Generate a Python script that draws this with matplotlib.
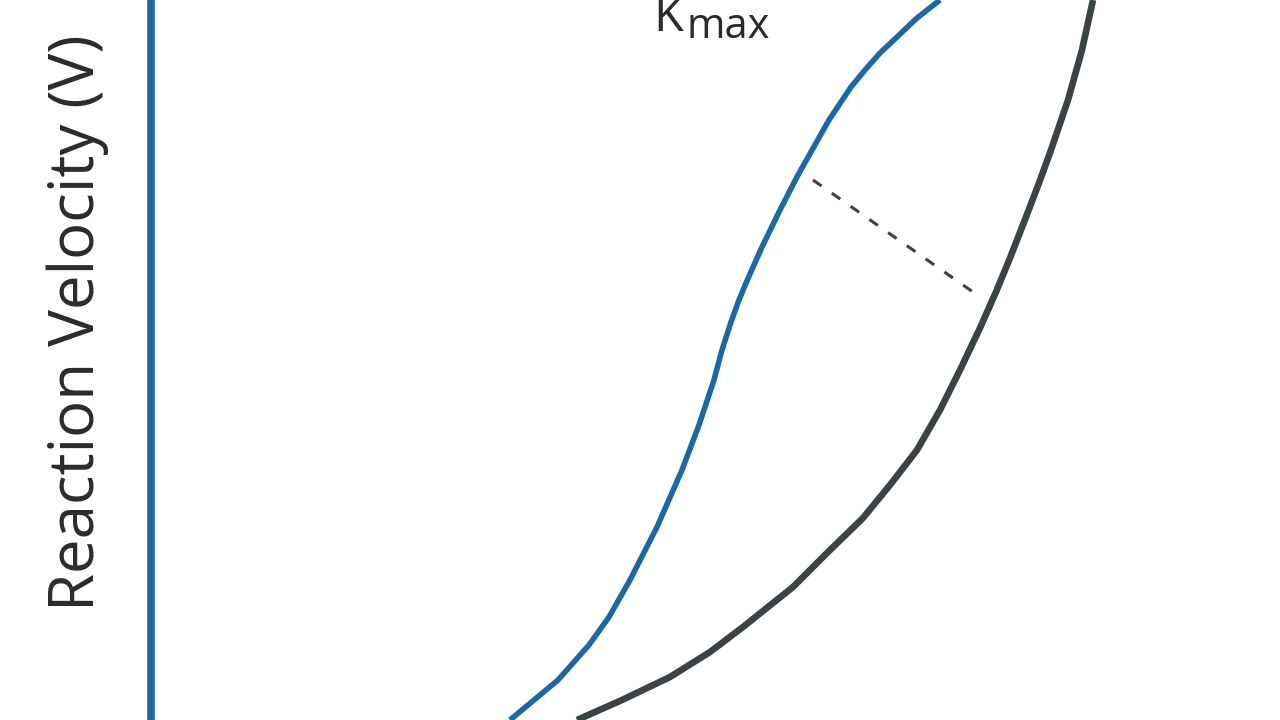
import matplotlib
matplotlib.use("Agg")
import matplotlib.pyplot as plt
import numpy as np

# Data (pixel positions, converted to data units below)
x0 = 151
blue_px = [510, 558, 589, 609, 630, 657, 682, 699, 714, 722, 731, 739, 746, 762, 780, 798, 816, 829, 839, 851, 865, 880, 897, 917, 940]
blue_py = [720, 680, 645, 617, 580, 527, 470, 425, 380, 350, 322, 300, 283, 247, 210, 175, 143, 120, 105, 87, 70, 53, 37, 18, 0]
gray_px = [577, 622, 670, 710, 743, 793, 827, 863, 890, 917, 940, 960, 980, 996, 1010, 1026, 1039, 1051, 1068, 1082, 1093]
gray_py = [720, 700, 677, 652, 627, 587, 553, 518, 485, 450, 410, 370, 328, 292, 258, 217, 183, 150, 100, 50, 0]
dash_px = [813, 973]
dash_py = [180, 292]

ylabel = "Reaction Velocity (V)"
k_main = "K"
k_sub = "max"

blue_x = np.array(blue_px) - x0
blue_y = 720 - np.array(blue_py)
gray_x = np.array(gray_px) - x0
gray_y = 720 - np.array(gray_py)
dash_x = np.array(dash_px) - x0
dash_y = 720 - np.array(dash_py)

plt.rcParams['font.family'] = ['Open Sans', 'DejaVu Sans']
plt.rcParams['lines.scale_dashes'] = False

fig = plt.figure(figsize=(12.8, 7.2), dpi=100)
ax = fig.add_axes([x0 / 1280, 0, 1 - x0 / 1280, 1])
ax.set_xlim(0, 1280 - x0)
ax.set_ylim(0, 720)

BLUE = "#1c67a6"
GRAY = "#3b4347"
TXT = "#2b2b2b"

ax.plot(blue_x, blue_y, color=BLUE, lw=4.0, solid_capstyle='butt', solid_joinstyle='round')
ax.plot(gray_x, gray_y, color=GRAY, lw=4.8, solid_capstyle='butt', solid_joinstyle='round')
ax.plot(dash_x, dash_y, color=GRAY, lw=2.2, dashes=(7.5, 9))

for s in ['top', 'right', 'bottom']:
    ax.spines[s].set_visible(False)
ax.spines['left'].set_color(BLUE)
ax.spines['left'].set_linewidth(5.5)
ax.set_xticks([])
ax.set_yticks([])

fig.text(78 / 1280, 1 - 323 / 720, ylabel, rotation=90, ha='center', va='center',
         fontsize=44.5, color=TXT)
fig.text(653 / 1280, 1 - 31 / 720, k_main, ha='left', va='baseline',
         fontsize=35, color=TXT)
fig.text(687 / 1280, 1 - 38 / 720, k_sub, ha='left', va='baseline',
         fontsize=30, color=TXT)

fig.savefig("out.png", dpi=100, facecolor='white')
